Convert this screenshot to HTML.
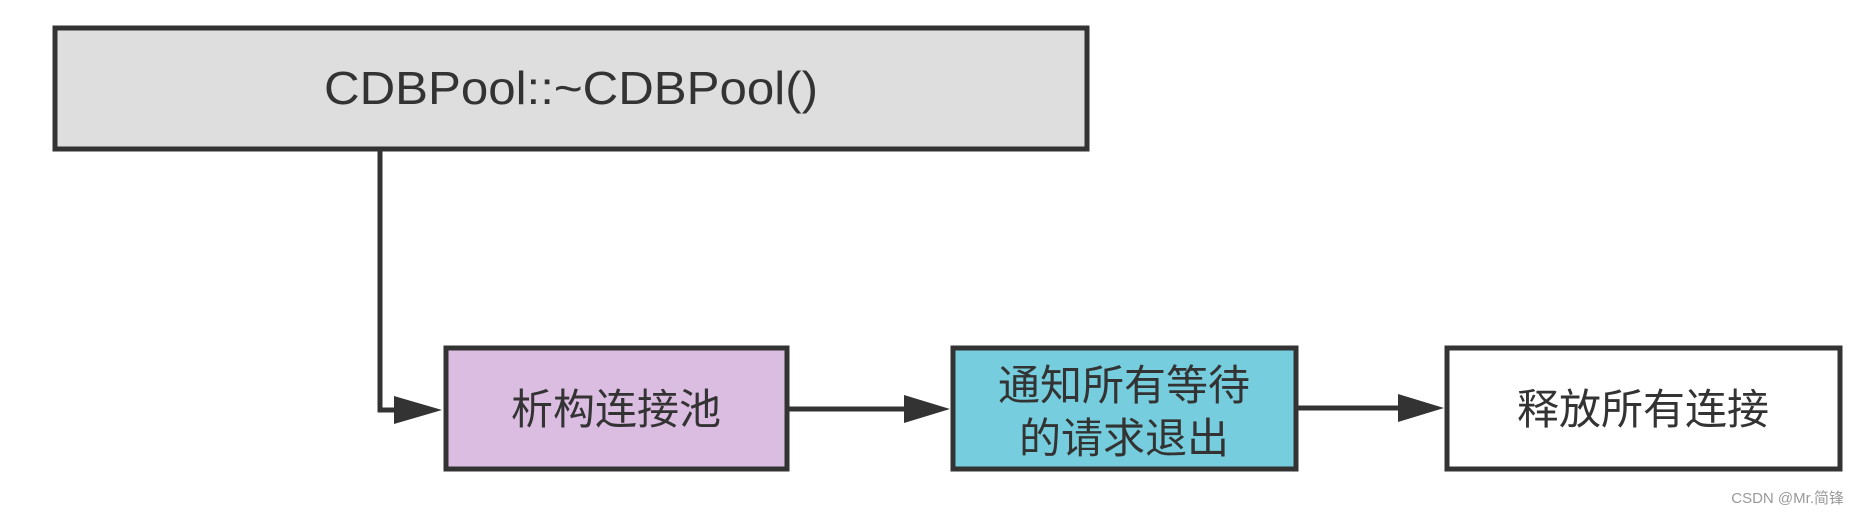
<!DOCTYPE html>
<html><head><meta charset="utf-8"><style>html,body{margin:0;padding:0;background:#fff;}svg{display:block}</style></head>
<body>
<svg width="1860" height="514" viewBox="0 0 1860 514" xmlns="http://www.w3.org/2000/svg" font-family="'Liberation Sans','Noto Sans CJK SC',sans-serif">
<rect x="55" y="28" width="1032" height="121" fill="#dedede" stroke="#333" stroke-width="5"/>
<text x="571" y="104" font-size="46" fill="#333" text-anchor="middle" textLength="494" lengthAdjust="spacingAndGlyphs">CDBPool::~CDBPool()</text>
<polyline points="380,149 380,410 400,410" fill="none" stroke="#333" stroke-width="5"/>
<polygon points="394,396 442,410 394,424" fill="#333"/>
<rect x="446" y="348" width="341" height="121" fill="#dbbde2" stroke="#333" stroke-width="5"/>
<text x="616" y="424" font-size="42" fill="#333" text-anchor="middle">析构连接池</text>
<line x1="789" y1="409" x2="910" y2="409" stroke="#333" stroke-width="5"/>
<polygon points="904,395 950,409 904,423" fill="#333"/>
<rect x="953" y="348" width="343" height="121" fill="#76cddd" stroke="#333" stroke-width="5"/>
<text x="1124" y="400" font-size="42" fill="#333" text-anchor="middle">通知所有等待</text>
<text x="1124" y="453" font-size="42" fill="#333" text-anchor="middle">的请求退出</text>
<line x1="1298" y1="408" x2="1404" y2="408" stroke="#333" stroke-width="5"/>
<polygon points="1398,394 1444,408 1398,422" fill="#333"/>
<rect x="1447" y="348" width="393" height="121" fill="#fff" stroke="#333" stroke-width="5"/>
<text x="1643" y="424" font-size="42" fill="#333" text-anchor="middle">释放所有连接</text>
<text x="1844" y="503" font-size="15" fill="#999" text-anchor="end">CSDN @Mr.简锋</text>
</svg>
</body></html>
